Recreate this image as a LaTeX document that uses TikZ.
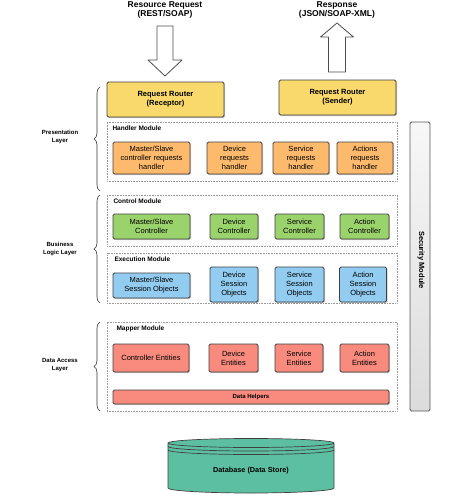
\documentclass[tikz,border=0pt]{standalone}
\usepackage{fontspec}
\setmainfont{Liberation Sans}
\usepackage{tikz}
\usetikzlibrary{positioning}
\usetikzlibrary{shadows,decorations.pathreplacing}

\definecolor{routeryellow}{HTML}{F9D96B}
\definecolor{handlerorange}{HTML}{FDBA6C}
\definecolor{controlgreen}{HTML}{9AD26C}
\definecolor{sessionblue}{HTML}{92CCF0}
\definecolor{entityred}{HTML}{F98B7E}
\definecolor{storeteal}{HTML}{5CBFA2}

\begin{document}
\begin{tikzpicture}[x=1pt,y=-1pt,
    box/.style={draw=black!75,rounded corners=1.5pt,line width=.8pt,align=center,inner sep=1pt,
                font=\fontsize{7.5}{9}\selectfont,
                drop shadow={shadow xshift=1pt,shadow yshift=-1pt,opacity=.45}},
    router/.style={box,fill=routeryellow,minimum width=117,minimum height=35,
                   font=\bfseries\fontsize{7.5}{9}\selectfont},
    handler/.style={box,fill=handlerorange,minimum height=32},
    control/.style={box,fill=controlgreen,minimum height=25},
    session/.style={box,fill=sessionblue,minimum height=35},
    entity/.style={box,fill=entityred,minimum height=28},
    module/.style={draw=black!40,densely dotted,line width=.6pt,inner sep=0pt},
    modlabel/.style={anchor=west,font=\bfseries\fontsize{6.5}{7.5}\selectfont},
    layer/.style={align=center,font=\bfseries\fontsize{6}{7.5}\selectfont},
    layerbrace/.style={decorate,decoration={brace,amplitude=6pt},draw=black!80,line width=.6pt},
    bigarrow/.style={draw=black!70,fill=white,line width=.8pt,line join=round},
    iotext/.style={align=center,font=\bfseries\fontsize{8.5}{9.5}\selectfont}]

  \useasboundingbox (0,0) rectangle (474,504);

  % request / response
  \node[iotext] (req) at (165,10) {Resource Request\\(REST/SOAP)};
  \node[iotext] (resp) at (337,10) {Response\\(JSON/SOAP-XML)};

  \node[router] (receptor) at (165.5,99.5) {Request Router\\(Receptor)};
  \node[router] (sender) at (337.5,97.5) {Request Router\\(Sender)};

  \coordinate (din) at (165,26);
  \coordinate (dout) at (337,72);
  \draw[bigarrow] (din) ++(-8,0) -- ++(16,0) -- ++(0,34) -- ++(9,0) -- ++(-17,16)
                  -- ++(-17,-16) -- ++(9,0) -- cycle;
  \draw[bigarrow] (dout) ++(-8.5,0) -- ++(17,0) -- ++(0,-35) -- ++(8,0) -- ++(-16.5,-14)
                  -- ++(-16.5,14) -- ++(8,0) -- cycle;

  % handler module
  \node[module,minimum width=290,minimum height=59] (hm) at (252,151.5) {};
  \node[modlabel] at (109,128) {Handler Module};
  \node[handler,minimum width=77] (mshandler) at (151.5,158) {Master/Slave\\controller requests\\handler};
  \node[handler,minimum width=55] (devhandler) at (234.5,158) {Device\\requests\\handler};
  \node[handler,minimum width=56] (svchandler) at (301,158) {Service\\requests\\handler};
  \node[handler,minimum width=56] (acthandler) at (365,158) {Actions\\requests\\handler};

  % control module
  \node[module,minimum width=290,minimum height=51] (cm) at (252,220.5) {};
  \node[modlabel] at (110,201) {Control Module};
  \node[control,minimum width=77] (msctrl) at (151.5,226.5) {Master/Slave\\Controller};
  \node[control,minimum width=48] (devctrl) at (234,226.5) {Device\\Controller};
  \node[control,minimum width=49] (svcctrl) at (299.5,226.5) {Service\\Controller};
  \node[control,minimum width=49] (actctrl) at (364.5,226.5) {Action\\Controller};

  % execution module
  \node[module,minimum width=290,minimum height=50] (em) at (252,278) {};
  \node[modlabel] at (111,259) {Execution Module};
  \node[session,minimum width=77,minimum height=25] (mssess) at (151.5,285.5) {Master/Slave\\Session Objects};
  \node[session,minimum width=48] (devsess) at (234,284.5) {Device\\Session\\Objects};
  \node[session,minimum width=49] (svcsess) at (299.5,284.5) {Service\\Session\\Objects};
  \node[session,minimum width=47] (actsess) at (363,284.5) {Action\\Session\\Objects};

  % mapper module
  \node[module,minimum width=290,minimum height=89] (mm) at (252,366.5) {};
  \node[modlabel] at (113,329) {Mapper Module};
  \node[entity,minimum width=76] (ctrlent) at (151,358) {Controller Entities};
  \node[entity,minimum width=49] (devent) at (233.5,358) {Device\\Entities};
  \node[entity,minimum width=48] (svcent) at (299,358) {Service\\Entities};
  \node[entity,minimum width=49] (actent) at (364.5,358) {Action\\Entities};
  \node[entity,minimum width=276,minimum height=14,font=\bfseries\fontsize{6}{7}\selectfont]
      (helpers) at (251,397) {Data Helpers};

  % security module
  \node[draw=black!65,line width=.8pt,rounded corners=1.5pt,top color=gray!6,bottom color=gray!28,
        minimum width=20,minimum height=289,inner sep=0pt] (security) at (420,266.5) {};
  \node[rotate=-90,font=\bfseries\fontsize{7.5}{9}\selectfont] at (421,260) {Security Module};

  % layers
  \draw[layerbrace] (100,191) -- (100,87);
  \node[layer] (presentation) at (60,137) {Presentation\\Layer};
  \draw[layerbrace] (100,303) -- (100,195);
  \node[layer] (business) at (60,249) {Business\\Logic Layer};
  \draw[layerbrace] (100,411) -- (100,322);
  \node[layer] (dataaccess) at (60,365) {Data Access\\Layer};

  % database
  \draw[fill=storeteal,draw=black!75,line width=.7pt]
    (168,443) -- (168,488) arc[start angle=180,end angle=360,x radius=83pt,y radius=5pt]
    -- (334,443) arc[start angle=0,end angle=180,x radius=83pt,y radius=4.5pt] -- cycle;
  \draw[draw=black!75,line width=.7pt] (168,443) arc[start angle=180,end angle=360,x radius=83pt,y radius=4.5pt];
  \draw[draw=black!75,line width=.7pt] (168,446.5) arc[start angle=180,end angle=360,x radius=83pt,y radius=4.5pt];
  \draw[draw=black!75,line width=.7pt] (168,450) arc[start angle=180,end angle=360,x radius=83pt,y radius=4.5pt];
  \node[font=\bfseries\fontsize{7.3}{9}\selectfont] (store) at (251,471) {Database (Data Store)};
\end{tikzpicture}
\end{document}
